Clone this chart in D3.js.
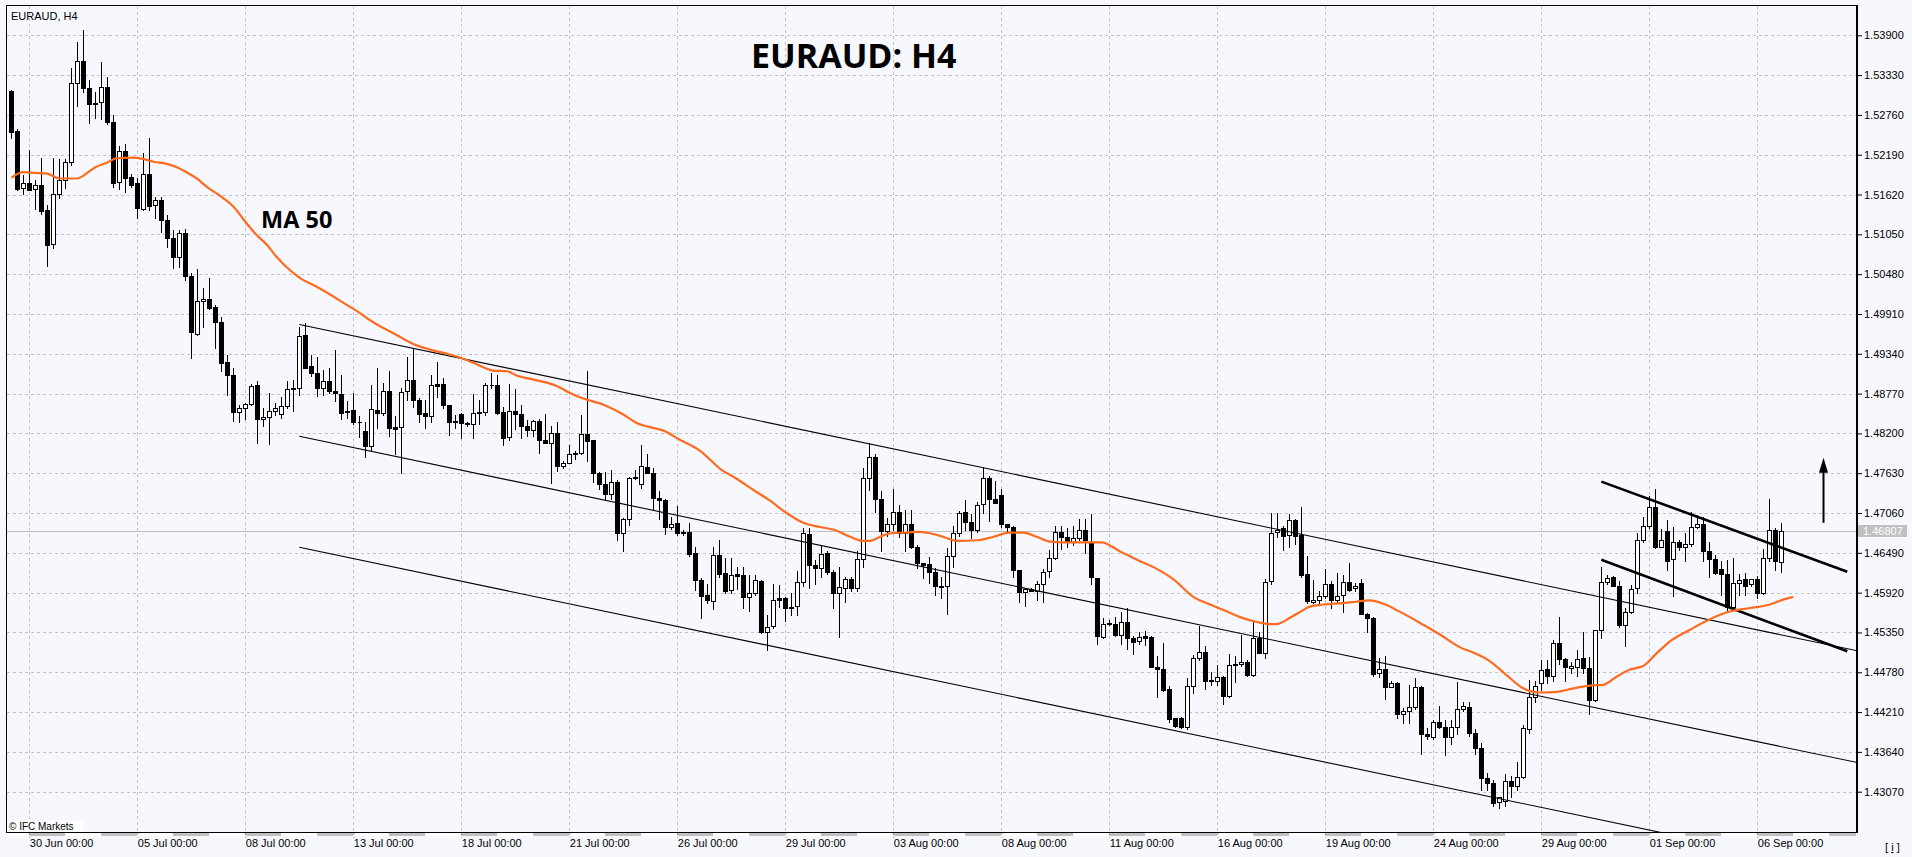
<!DOCTYPE html>
<html><head><meta charset="utf-8">
<script src="https://cdn.jsdelivr.net/npm/d3@7"></script>
<style>body{margin:0;background:#f7f8fd;}svg{display:block}</style>
</head><body><svg id="c" width="1912" height="857"></svg>
<script>
// ---- data ----
const openP = [1.5310,1.5253,1.5171,1.5178,1.5170,1.5176,1.5140,1.5091,1.5163,1.5183,
1.5209,1.5321,1.5353,1.5315,1.5293,1.5295,1.5316,1.5266,1.5180,1.5224,
1.5187,1.5178,1.5142,1.5191,1.5147,1.5154,1.5125,1.5100,1.5072,1.5107,
1.5046,1.4962,1.5010,1.5013,1.5001,1.4980,1.4922,1.4904,1.4851,1.4856,
1.4862,1.4890,1.4840,1.4843,1.4852,1.4848,1.4859,1.4885,1.4885,1.4961,
1.4916,1.4906,1.4885,1.4895,1.4881,1.4877,1.4852,1.4854,1.4837,1.4823,
1.4802,1.4853,1.4849,1.4881,1.4829,1.4829,1.4881,1.4896,1.4868,1.4849,
1.4845,1.4891,1.4891,1.4860,1.4838,1.4848,1.4835,1.4834,1.4849,1.4851,
1.4890,1.4889,1.4851,1.4815,1.4852,1.4848,1.4831,1.4825,1.4838,1.4811,
1.4806,1.4821,1.4774,1.4778,1.4792,1.4792,1.4819,1.4810,1.4763,1.4748,
1.4733,1.4751,1.4678,1.4697,1.4757,1.4748,1.4772,1.4764,1.4728,1.4725,
1.4686,1.4692,1.4679,1.4679,1.4649,1.4610,1.4588,1.4580,1.4646,1.4620,
1.4596,1.4618,1.4617,1.4586,1.4591,1.4609,1.4535,1.4544,1.4584,1.4584,
1.4571,1.4573,1.4607,1.4676,1.4632,1.4627,1.4649,1.4621,1.4591,1.4598,
1.4612,1.4598,1.4640,1.4756,1.4786,1.4726,1.4680,1.4690,1.4707,1.4678,
1.4690,1.4658,1.4634,1.4633,1.4622,1.4602,1.4602,1.4645,1.4678,1.4707,
1.4693,1.4682,1.4719,1.4756,1.4726,1.4732,1.4691,1.4686,1.4624,1.4593,
1.4597,1.4595,1.4605,1.4623,1.4641,1.4679,1.4671,1.4664,1.4670,1.4681,
1.4665,1.4613,1.4529,1.4549,1.4547,1.4531,1.4550,1.4527,1.4523,1.4530,
1.4529,1.4486,1.4482,1.4454,1.4412,1.4413,1.4400,1.4459,1.4499,1.4507,
1.4467,1.4466,1.4471,1.4444,1.4488,1.4490,1.4493,1.4474,1.4527,1.4506,
1.4608,1.4679,1.4684,1.4675,1.4696,1.4675,1.4618,1.4579,1.4581,1.4587,
1.4604,1.4581,1.4589,1.4607,1.4598,1.4606,1.4562,1.4556,1.4477,1.4483,
1.4457,1.4463,1.4418,1.4422,1.4428,1.4457,1.4390,1.4386,1.4407,1.4400,
1.4386,1.4400,1.4425,1.4428,1.4391,1.4369,1.4327,1.4319,1.4292,1.4293,
1.4323,1.4315,1.4328,1.4397,1.4443,1.4462,1.4482,1.4472,1.4520,1.4497,
1.4484,1.4486,1.4498,1.4484,1.4438,1.4538,1.4607,1.4614,1.4602,1.4545,
1.4565,1.4598,1.4668,1.4688,1.4715,1.4658,1.4680,1.4640,1.4665,1.4658,
1.4662,1.4686,1.4691,1.4651,1.4640,1.4626,1.4619,1.4572,1.4606,1.4611,
1.4604,1.4611,1.4591,1.4641,1.4681,1.4636];
const highP = [1.5311,1.5256,1.5190,1.5226,1.5183,1.5215,1.5147,1.5214,1.5213,1.5213,
1.5343,1.5381,1.5397,1.5326,1.5309,1.5352,1.5331,1.5276,1.5231,1.5235,
1.5191,1.5185,1.5222,1.5243,1.5158,1.5158,1.5133,1.5111,1.5111,1.5112,
1.5049,1.5055,1.5028,1.5043,1.5004,1.4987,1.4932,1.4914,1.4861,1.4863,
1.4891,1.4895,1.4856,1.4878,1.4863,1.4872,1.4895,1.4897,1.4973,1.4978,
1.4932,1.4930,1.4911,1.4913,1.4940,1.4903,1.4866,1.4878,1.4845,1.4837,
1.4890,1.4914,1.4892,1.4909,1.4845,1.4885,1.4930,1.4942,1.4871,1.4868,
1.4904,1.4922,1.4899,1.4860,1.4847,1.4849,1.4837,1.4876,1.4868,1.4892,
1.4906,1.4903,1.4858,1.4891,1.4884,1.4861,1.4839,1.4839,1.4840,1.4848,
1.4830,1.4837,1.4781,1.4803,1.4795,1.4847,1.4910,1.4811,1.4765,1.4765,
1.4768,1.4754,1.4699,1.4758,1.4768,1.4804,1.4790,1.4771,1.4738,1.4726,
1.4701,1.4716,1.4681,1.4692,1.4658,1.4613,1.4604,1.4658,1.4667,1.4641,
1.4642,1.4629,1.4629,1.4617,1.4617,1.4610,1.4560,1.4605,1.4603,1.4586,
1.4592,1.4623,1.4684,1.4684,1.4639,1.4659,1.4652,1.4625,1.4629,1.4615,
1.4615,1.4652,1.4770,1.4806,1.4791,1.4738,1.4699,1.4741,1.4718,1.4710,
1.4710,1.4660,1.4635,1.4643,1.4627,1.4615,1.4656,1.4687,1.4709,1.4725,
1.4704,1.4722,1.4772,1.4759,1.4752,1.4740,1.4691,1.4687,1.4625,1.4598,
1.4598,1.4609,1.4626,1.4653,1.4687,1.4687,1.4684,1.4687,1.4697,1.4697,
1.4705,1.4613,1.4556,1.4553,1.4557,1.4564,1.4570,1.4530,1.4535,1.4537,
1.4530,1.4502,1.4520,1.4458,1.4413,1.4414,1.4470,1.4503,1.4544,1.4516,
1.4478,1.4489,1.4473,1.4504,1.4502,1.4532,1.4495,1.4550,1.4536,1.4611,
1.4706,1.4706,1.4687,1.4705,1.4697,1.4715,1.4645,1.4610,1.4595,1.4626,
1.4608,1.4620,1.4617,1.4634,1.4606,1.4611,1.4563,1.4557,1.4498,1.4501,
1.4465,1.4464,1.4427,1.4460,1.4470,1.4458,1.4398,1.4409,1.4429,1.4410,
1.4410,1.4464,1.4435,1.4436,1.4397,1.4377,1.4334,1.4324,1.4300,1.4333,
1.4329,1.4350,1.4403,1.4467,1.4465,1.4495,1.4496,1.4524,1.4557,1.4498,
1.4493,1.4510,1.4535,1.4500,1.4538,1.4629,1.4617,1.4616,1.4608,1.4570,
1.4603,1.4678,1.4701,1.4730,1.4740,1.4683,1.4696,1.4686,1.4668,1.4677,
1.4707,1.4703,1.4701,1.4664,1.4646,1.4638,1.4639,1.4641,1.4619,1.4620,
1.4611,1.4616,1.4654,1.4726,1.4684,1.4692];
const lowP = [1.5243,1.5169,1.5163,1.5168,1.5141,1.5134,1.5060,1.5085,1.5157,1.5171,
1.5204,1.5289,1.5309,1.5264,1.5271,1.5270,1.5263,1.5173,1.5170,1.5166,
1.5173,1.5128,1.5140,1.5140,1.5128,1.5109,1.5087,1.5057,1.5058,1.5039,
1.4928,1.4961,1.4973,1.4998,1.4942,1.4909,1.4875,1.4838,1.4837,1.4841,
1.4861,1.4806,1.4830,1.4805,1.4847,1.4842,1.4856,1.4852,1.4875,1.4913,
1.4902,1.4874,1.4875,1.4878,1.4866,1.4840,1.4842,1.4834,1.4815,1.4786,
1.4795,1.4828,1.4847,1.4817,1.4790,1.4763,1.4868,1.4858,1.4837,1.4828,
1.4837,1.4872,1.4856,1.4818,1.4828,1.4814,1.4830,1.4814,1.4833,1.4847,
1.4885,1.4848,1.4803,1.4810,1.4826,1.4814,1.4816,1.4816,1.4792,1.4806,
1.4749,1.4766,1.4771,1.4777,1.4783,1.4790,1.4780,1.4750,1.4741,1.4726,
1.4726,1.4668,1.4651,1.4689,1.4755,1.4742,1.4763,1.4712,1.4697,1.4676,
1.4683,1.4675,1.4674,1.4645,1.4596,1.4556,1.4577,1.4569,1.4615,1.4591,
1.4591,1.4597,1.4570,1.4566,1.4589,1.4534,1.4510,1.4541,1.4572,1.4552,
1.4560,1.4560,1.4601,1.4598,1.4605,1.4615,1.4618,1.4570,1.4528,1.4578,
1.4594,1.4595,1.4629,1.4739,1.4708,1.4651,1.4673,1.4682,1.4671,1.4652,
1.4656,1.4627,1.4613,1.4606,1.4589,1.4585,1.4561,1.4629,1.4673,1.4682,
1.4670,1.4679,1.4706,1.4694,1.4720,1.4686,1.4679,1.4615,1.4579,1.4573,
1.4594,1.4582,1.4579,1.4614,1.4640,1.4655,1.4658,1.4660,1.4667,1.4649,
1.4604,1.4519,1.4527,1.4546,1.4530,1.4519,1.4511,1.4504,1.4518,1.4517,
1.4486,1.4443,1.4451,1.4407,1.4400,1.4398,1.4397,1.4449,1.4495,1.4454,
1.4460,1.4460,1.4433,1.4443,1.4464,1.4487,1.4472,1.4472,1.4505,1.4499,
1.4605,1.4671,1.4653,1.4657,1.4661,1.4614,1.4577,1.4577,1.4575,1.4585,
1.4570,1.4577,1.4564,1.4594,1.4594,1.4561,1.4536,1.4472,1.4471,1.4440,
1.4457,1.4413,1.4406,1.4406,1.4426,1.4361,1.4382,1.4383,1.4398,1.4359,
1.4375,1.4390,1.4423,1.4387,1.4361,1.4310,1.4309,1.4287,1.4284,1.4287,
1.4300,1.4310,1.4327,1.4391,1.4436,1.4453,1.4462,1.4465,1.4490,1.4465,
1.4477,1.4472,1.4477,1.4418,1.4437,1.4527,1.4605,1.4601,1.4543,1.4516,
1.4563,1.4592,1.4665,1.4684,1.4656,1.4657,1.4625,1.4587,1.4653,1.4638,
1.4659,1.4684,1.4638,1.4614,1.4619,1.4589,1.4567,1.4567,1.4589,1.4589,
1.4601,1.4584,1.4590,1.4638,1.4625,1.4622];
const closeP = [1.5252,1.5170,1.5178,1.5169,1.5175,1.5139,1.5090,1.5163,1.5183,1.5209,
1.5321,1.5353,1.5314,1.5292,1.5292,1.5316,1.5266,1.5179,1.5225,1.5186,
1.5176,1.5143,1.5191,1.5146,1.5154,1.5125,1.5100,1.5072,1.5107,1.5045,
1.4965,1.5010,1.5013,1.5000,1.4979,1.4921,1.4904,1.4851,1.4856,1.4862,
1.4888,1.4840,1.4843,1.4852,1.4856,1.4859,1.4883,1.4883,1.4960,1.4914,
1.4906,1.4885,1.4895,1.4880,1.4878,1.4849,1.4850,1.4837,1.4836,1.4802,
1.4855,1.4849,1.4881,1.4828,1.4826,1.4879,1.4896,1.4868,1.4848,1.4845,
1.4889,1.4888,1.4860,1.4837,1.4837,1.4835,1.4833,1.4849,1.4851,1.4889,
1.4889,1.4849,1.4814,1.4852,1.4848,1.4830,1.4825,1.4838,1.4810,1.4806,
1.4821,1.4774,1.4778,1.4791,1.4791,1.4819,1.4809,1.4763,1.4748,1.4733,
1.4751,1.4678,1.4697,1.4756,1.4756,1.4774,1.4764,1.4727,1.4725,1.4686,
1.4690,1.4678,1.4677,1.4648,1.4610,1.4587,1.4581,1.4646,1.4619,1.4595,
1.4617,1.4616,1.4586,1.4591,1.4610,1.4535,1.4543,1.4582,1.4582,1.4570,
1.4570,1.4607,1.4677,1.4631,1.4627,1.4648,1.4621,1.4591,1.4600,1.4612,
1.4598,1.4640,1.4756,1.4786,1.4726,1.4680,1.4690,1.4707,1.4678,1.4690,
1.4657,1.4635,1.4632,1.4622,1.4602,1.4600,1.4644,1.4678,1.4706,1.4693,
1.4682,1.4717,1.4756,1.4726,1.4721,1.4691,1.4686,1.4624,1.4593,1.4597,
1.4595,1.4605,1.4622,1.4641,1.4679,1.4671,1.4665,1.4670,1.4681,1.4667,
1.4614,1.4530,1.4547,1.4547,1.4531,1.4550,1.4527,1.4522,1.4529,1.4527,
1.4486,1.4482,1.4453,1.4411,1.4401,1.4400,1.4459,1.4499,1.4507,1.4465,
1.4466,1.4471,1.4444,1.4488,1.4490,1.4493,1.4474,1.4527,1.4506,1.4607,
1.4678,1.4682,1.4673,1.4696,1.4673,1.4617,1.4580,1.4582,1.4587,1.4604,
1.4581,1.4587,1.4607,1.4596,1.4601,1.4562,1.4556,1.4476,1.4483,1.4457,
1.4463,1.4418,1.4422,1.4428,1.4457,1.4389,1.4387,1.4407,1.4400,1.4385,
1.4400,1.4425,1.4429,1.4391,1.4369,1.4327,1.4319,1.4291,1.4300,1.4323,
1.4315,1.4328,1.4398,1.4443,1.4458,1.4481,1.4472,1.4520,1.4497,1.4485,
1.4487,1.4497,1.4484,1.4438,1.4538,1.4607,1.4613,1.4601,1.4545,1.4565,
1.4597,1.4667,1.4687,1.4715,1.4658,1.4668,1.4638,1.4665,1.4657,1.4662,
1.4686,1.4691,1.4651,1.4640,1.4620,1.4619,1.4572,1.4606,1.4610,1.4602,
1.4611,1.4591,1.4641,1.4681,1.4638,1.46807];

// MA 50: bar position and value
const maBar = [0,2,4,6,8,11,12,14,16,17.5,20.3,21.9,23.7,25.9,27.6,29.2,30.9,32.6,35.3,37,39.2,40.9,42.6,44.2,46.4,48.4,50.9,53.7,55.9,58,
59.8,62,64.2,67,69.8,72.6,75.3,78.1,80.3,82.6,84.2,87.6,90.9,93.1,95.3,98.7,102,104.2,106.4,108.7,111.4,114.8,118.2,120.9,123.7,126.4,129.2,132,134.8,137.1,
139.8,142.1,143.1,144.8,146.4,148.7,150.9,153.1,155.3,157.6,160.9,163.7,166.4,168.7,170.9,173.1,175.3,178.1,181.7,184.8,187.6,190.9,193.7,197,199.8,202.6,204.8,207.6,209.8,210.9,
213.1,215.3,216.4,218.7,222,224.2,226.4,228.7,230.9,233.1,235.3,238.1,241.4,243.7,246.4,249.2,252,254.8,257.6,260.4,263.1,265.3,267.6,269.8,272,274.2,276.4,279.8,283.1,286.4,289.8,293.1,295.3,297];
const maVal = [1.5186,1.5194,1.5193,1.5192,1.5185,1.5185,1.5189,1.5201,1.5208,1.5214,1.5215,1.5213,1.5209,1.5206,1.5201,1.5194,1.5185,1.5173,1.5157,1.5145,1.5121,1.5104,1.5090,1.5073,1.5054,1.5041,1.5030,1.5016,1.5004,1.4993,
1.4982,1.4971,1.4961,1.4948,1.4940,1.4934,1.4927,1.4917,1.4910,1.4909,1.4903,1.4896,1.4888,1.4878,1.4870,1.4861,1.4847,1.4835,1.4829,1.4824,1.4811,1.4795,1.4769,1.4755,1.4739,1.4724,1.4706,1.4692,1.4686,1.4682,
1.4672,1.4666,1.4666,1.4672,1.4677,1.4678,1.4679,1.4677,1.4672,1.4666,1.4667,1.4672,1.4678,1.4678,1.4672,1.4665,1.4664,1.4664,1.4664,1.4651,1.4639,1.4626,1.4611,1.4586,1.4575,1.4565,1.4557,1.4550,1.4547,1.4547,
1.4556,1.4567,1.4572,1.4575,1.4577,1.4579,1.4581,1.4576,1.4567,1.4557,1.4546,1.4532,1.4514,1.4506,1.4494,1.4474,1.4455,1.4449,1.4450,1.4455,1.4459,1.4460,1.4472,1.4482,1.4487,1.4505,1.4522,1.4539,1.4554,1.4565,1.4570,1.4575,1.4582,1.4586];

const yTickLabels = ["1.53900","1.53330","1.52760","1.52190","1.51620","1.51050","1.50480","1.49910","1.49340","1.48770",
"1.48200","1.47630","1.47060","1.46490","1.45920","1.45350","1.44780","1.44210","1.43640","1.43070"];
const xTickLabels = ["30 Jun 00:00","05 Jul 00:00","08 Jul 00:00","13 Jul 00:00","18 Jul 00:00","21 Jul 00:00","26 Jul 00:00","29 Jul 00:00",
"03 Aug 00:00","08 Aug 00:00","11 Aug 00:00","16 Aug 00:00","19 Aug 00:00","24 Aug 00:00","29 Aug 00:00","01 Sep 00:00","06 Sep 00:00"];
const xTickBars = [3,21,39,57,75,93,111,129,147,165,183,201,219,237,255,273,291];
const lastPrice = 1.46807;

// trend channel objects (bar, price)
const channelUpper = [[48,1.4976],[307.5,1.4509]];
const channelMid   = [[48,1.4816],[307.5,1.4349]];
const channelLow   = [[48,1.4657],[307.5,1.4190]];
const flagUpper = [[265,1.4751],[306,1.4622]];
const flagLower = [[265,1.4639],[306,1.4508]];
const arrowPts = [[301.9,1.4692],[301.9,1.4785]];

// ---- layout ----
const L=6, T=5, R=1857, B=832;
const svg=d3.select("#c");
const x=d3.scaleLinear().domain([0,295]).range([11.3,1781.3]);
const y=d3.scaleLinear().domain([1.4307,1.539]).range([791.7,35.3]);
const snap=v=>Math.round(v)+0.5;
const FONT="'Liberation Sans', Arial, sans-serif";

svg.append("rect").attr("width",1912).attr("height",857).attr("fill","#f7f8fd");
svg.append("defs").append("clipPath").attr("id","clip").append("rect")
  .attr("x",L+1).attr("y",T+1).attr("width",R-L-2).attr("height",B-T-1);

// grid
const grid=svg.append("g").attr("stroke","#c3c3c3").attr("stroke-dasharray","3,3").attr("shape-rendering","crispEdges");
yTickLabels.forEach(t=>{const yy=snap(y(+t));grid.append("line").attr("x1",L+1).attr("x2",R-1).attr("y1",yy).attr("y2",yy);});
xTickBars.forEach(b=>{const xx=snap(x(b));grid.append("line").attr("x1",xx).attr("x2",xx).attr("y1",T+1).attr("y2",B);});

const plot=svg.append("g").attr("clip-path","url(#clip)");
// last price line
plot.append("line").attr("x1",L).attr("x2",R).attr("y1",snap(y(lastPrice))).attr("y2",snap(y(lastPrice)))
  .attr("stroke","#c0c0c0").attr("shape-rendering","crispEdges");

// candles
const cg=plot.append("g").attr("shape-rendering","crispEdges");
openP.forEach((o,i)=>{
  const c=closeP[i], h=highP[i], l=lowP[i];
  const cx=Math.round(x(i));
  cg.append("line").attr("x1",cx+0.5).attr("x2",cx+0.5).attr("y1",Math.round(y(h))).attr("y2",Math.round(y(l))+1).attr("stroke","#000");
  const top=Math.round(y(Math.max(o,c))), bot=Math.round(y(Math.min(o,c)));
  cg.append("path").attr("d",`M${cx-1.5},${top+0.5}h4v${bot-top}h-4Z`)
    .attr("fill",c>=o?"#fff":"#000").attr("stroke","#000");
});

// channel lines
const ln=d3.line().x(d=>x(d[0])).y(d=>y(d[1]));
[channelUpper,channelMid,channelLow].forEach(p=>plot.append("path").attr("d",ln(p)).attr("stroke","#000").attr("stroke-width",1.1).attr("fill","none"));
[flagUpper,flagLower].forEach(p=>plot.append("path").attr("d",ln(p)).attr("stroke","#000").attr("stroke-width",2.6).attr("fill","none"));

// MA 50
const maPts=maBar.map((b,i)=>[b,maVal[i]]);
plot.append("path").attr("d",ln.curve(d3.curveMonotoneX)(maPts)).attr("stroke","#ff6a1f").attr("stroke-width",2.2).attr("fill","none");
ln.curve(d3.curveLinear);

// arrow
const ax=Math.round(x(arrowPts[0][0]))+0.5, ay0=y(arrowPts[0][1]), ay1=y(arrowPts[1][1]);
plot.append("line").attr("x1",ax).attr("x2",ax).attr("y1",ay0).attr("y2",ay1+12).attr("stroke","#000").attr("stroke-width",2);
plot.append("path").attr("d",`M${ax},${ay1}L${ax-4.5},${ay1+15}L${ax+4.5},${ay1+15}Z`).attr("fill","#000");

// day band under the axis
const band=svg.append("g").attr("shape-rendering","crispEdges");
for(let k=-1;k<52;k++){
  let a=x(3+6*k), b=x(3+6*k+6);
  a=Math.max(a,L); b=Math.min(b,R-1);
  if(b<=a) continue;
  band.append("rect").attr("x",Math.round(a)).attr("y",B+1).attr("width",Math.round(b)-Math.round(a)).attr("height",3)
    .attr("fill",(k%2===0)?"#c0c0c0":"#ffffff");
}

// borders
const bd=svg.append("g").attr("stroke","#000").attr("shape-rendering","crispEdges");
bd.append("line").attr("x1",L+0.5).attr("x2",L+0.5).attr("y1",T).attr("y2",B+1);
bd.append("line").attr("x1",L).attr("x2",R).attr("y1",T+0.5).attr("y2",T+0.5);
bd.append("line").attr("x1",L).attr("x2",R).attr("y1",B+0.5).attr("y2",B+0.5);
bd.append("line").attr("x1",R).attr("x2",R).attr("y1",T).attr("y2",B+1).attr("stroke-width",2);

// y axis
const yAxis=d3.axisRight(y).tickValues(yTickLabels.map(Number)).tickFormat((d,i)=>yTickLabels[i]).tickSize(4).tickPadding(2);
const gy=svg.append("g").attr("transform",`translate(${R+1},0)`).call(yAxis);
gy.select(".domain").remove();
gy.selectAll("text").attr("font-family",FONT).attr("font-size",11).attr("fill","#000");
gy.selectAll("line").attr("stroke","#000");

// x axis
const xAxis=d3.axisBottom(x).tickValues(xTickBars).tickFormat((d,i)=>xTickLabels[i]).tickSize(5);
const gx=svg.append("g").attr("transform",`translate(0,${B+1})`).call(xAxis);
gx.select(".domain").remove();
gx.selectAll("line").attr("stroke","#a0a0a0").attr("stroke-dasharray","2,2");
gx.selectAll("text").attr("font-family",FONT).attr("font-size",11).attr("fill","#000")
  .attr("text-anchor","start").attr("x",0).attr("y",6);

// last price label
const ly=Math.round(y(lastPrice));
svg.append("rect").attr("x",R+1).attr("y",ly-6).attr("width",49).attr("height",12).attr("fill","#c0c0c0");
svg.append("text").attr("x",R+6).attr("y",ly+4).attr("font-family",FONT).attr("font-size",11).attr("fill","#fff").text(lastPrice.toFixed(5));

// texts
svg.append("text").attr("x",11).attr("y",20).attr("font-family",FONT).attr("font-size",11).attr("fill","#000").text("EURAUD, H4");
svg.append("text").attr("x",751).attr("y",68).attr("font-family","'Open Sans', sans-serif").attr("font-weight",700).attr("font-size",34).attr("fill","#000").text("EURAUD: H4");
svg.append("text").attr("x",261).attr("y",228).attr("font-family","'Open Sans', sans-serif").attr("font-weight",700).attr("font-size",23.5).attr("fill","#000").text("MA 50");
svg.append("rect").attr("x",L+1).attr("y",B-11).attr("width",76).attr("height",11).attr("fill","#fff");
svg.append("text").attr("x",9).attr("y",B-2).attr("font-family",FONT).attr("font-size",10).attr("fill","#000").text("© IFC Markets");
const it=svg.append("text").attr("x",1885).attr("y",851).attr("font-family",FONT).attr("font-size",11).attr("fill","#000");
it.append("tspan").text("[ ");
it.append("tspan").attr("text-decoration","underline").text("i");
it.append("tspan").text(" ]");
</script></body></html>
